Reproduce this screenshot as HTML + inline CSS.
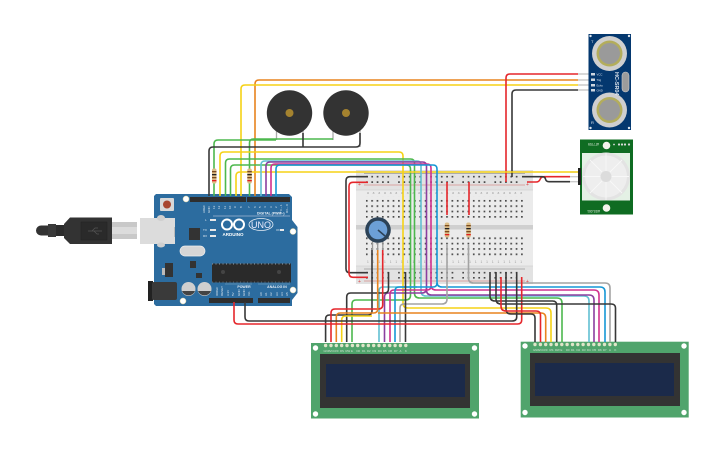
<!DOCTYPE html>
<html><head><meta charset="utf-8"><style>
html,body{margin:0;padding:0;background:#fff}
svg{display:block}
text{font-family:"Liberation Sans",sans-serif}
.w{fill:none;stroke-width:1.6;stroke-linejoin:round}
.g{stroke:#4db84e}.y{stroke:#f5d216}.o{stroke:#e8831e}.r{stroke:#e5262b}.k{stroke:#383838}
.c{stroke:#62c0d2}.p{stroke:#8b3f9f}.m{stroke:#d1308e}.b{stroke:#1597d5}.e{stroke:#a3a3a3}
</style></head><body>
<svg width="725" height="453" viewBox="0 0 725 453" xmlns="http://www.w3.org/2000/svg">
<defs>
<pattern id="h" x="365.9" y="194.6" width="5.35" height="5.35" patternUnits="userSpaceOnUse"><rect x="0" y="0" width="1.7" height="1.7" fill="#4a4a4a"/></pattern>
</defs>
<rect width="725" height="453" fill="#fff"/>

<!-- USB cable -->
<rect x="112" y="222" width="25" height="17" fill="#c9c9c9"/>
<rect x="112" y="227" width="25" height="7" fill="#dcdcdc"/>
<path d="M41 225.500H50V235.500H41A5 5 0 0 1 41 225.500Z" fill="#333"/>
<rect x="48" y="224" width="8" height="13" fill="#3a3a3a"/>
<rect x="56" y="225" width="8" height="11" fill="#2c2c2c"/>
<path d="M64 224L70 217.500H112V244H70L64 238Z" fill="#333"/>
<rect x="81" y="222" width="26" height="18" fill="#2a2a2a" stroke="#222" stroke-width=".5"/>
<path d="M88 231H102M92 231L95 228H98M94 231L97 234H99" stroke="#555" stroke-width=".7" fill="none"/>

<!-- Arduino -->
<path d="M156 194H289L292 197V220L297.500 227V293L292 300V306H156L154 304V196Z" fill="#2c6c9f"/>
<rect x="140" y="218" width="35" height="26" fill="#dcdcdc"/>
<rect x="174" y="227" width="1" height="10" fill="#bbb"/>
<ellipse cx="161" cy="218" rx="4" ry="3" fill="#cfcfcf"/><ellipse cx="161" cy="245" rx="4" ry="2.500" fill="#cfcfcf"/>
<rect x="190" y="197" width="56" height="5" fill="#2e2e2e"/>
<rect x="247" y="197" width="43" height="5" fill="#2e2e2e"/>
<rect x="209" y="298" width="44" height="5" fill="#2e2e2e"/>
<rect x="258" y="298" width="32" height="5" fill="#2e2e2e"/>
<circle cx="186" cy="199" r="3" fill="#fff" stroke="#e6d9a0" stroke-width=".5"/>
<circle cx="293" cy="231.500" r="3" fill="#fff" stroke="#e6d9a0" stroke-width=".5"/>
<circle cx="293" cy="290" r="3" fill="#fff" stroke="#e6d9a0" stroke-width=".5"/>
<circle cx="183" cy="301" r="3" fill="#fff" stroke="#e6d9a0" stroke-width=".5"/>
<rect x="160" y="198" width="14" height="13" rx="1" fill="#d8d8d8"/>
<circle cx="167" cy="204.500" r="4" fill="#a8452e"/>
<rect x="189" y="228" width="11" height="12" fill="#333"/>
<rect x="180" y="246" width="25" height="10" rx="5" fill="#d6d6d6" stroke="#eee" stroke-width=".7"/>
<rect x="190" y="261" width="6" height="7" fill="#333"/>
<rect x="196" y="273" width="6" height="5" fill="#333"/>
<rect x="212" y="263.500" width="79" height="19" fill="#2a2a2a"/>
<path d="M212 264h79" stroke="#fff" stroke-width=".6" stroke-dasharray="1 2.500"/>
<path d="M212 282h79" stroke="#999" stroke-width=".6" stroke-dasharray="1 2.500"/>
<circle cx="223" cy="272" r="2" fill="#444"/><circle cx="279" cy="272" r="2" fill="#444"/>
<rect x="165" y="263" width="8" height="14" fill="#333"/><rect x="162" y="268" width="3" height="7" fill="#bbb"/>
<rect x="148" y="281" width="5" height="20" fill="#222"/>
<rect x="152" y="282" width="25" height="18" rx="2" fill="#3a3a3a"/>
<circle cx="188.500" cy="289" r="7" fill="#cfcfcf"/><path d="M182 291a7 7 0 0 0 13 0Z" fill="#444"/>
<circle cx="204.500" cy="289" r="7" fill="#cfcfcf"/><path d="M198 291a7 7 0 0 0 13 0Z" fill="#444"/>
<g fill="#e8e8e8">
<rect x="210" y="219" width="6" height="2"/><rect x="210" y="229" width="6" height="2"/><rect x="210" y="235" width="6" height="2"/>
<rect x="280" y="229" width="4" height="2" />
</g>
<g fill="none" stroke="#fff" stroke-width="2">
<circle cx="227" cy="224.500" r="5"/><circle cx="239" cy="224.500" r="5"/>
</g>
<ellipse cx="261" cy="224.500" rx="12" ry="6" fill="none" stroke="#e8eef5" stroke-width=".8"/>
<text x="261" y="228" font-size="9" fill="#eef" text-anchor="middle">UNO</text>
<text x="233" y="236" font-size="4.500" font-weight="bold" fill="#fff" text-anchor="middle">ARDUINO</text>
<text x="257" y="214.500" font-size="3.500" font-weight="bold" fill="#e8eef5">DIGITAL (PWM~)</text>
<path d="M213 216H290" stroke="#dde" stroke-width=".5"/>
<text x="244" y="288" font-size="3.500" font-weight="bold" fill="#e8eef5" text-anchor="middle">POWER</text>
<text x="277" y="288" font-size="3.500" font-weight="bold" fill="#e8eef5" text-anchor="middle">ANALOG IN</text>
<path d="M225 284H252M258 284H290" stroke="#9bc" stroke-width=".4"/>
<g font-size="3" fill="#dfe8f0">
<text transform="translate(205,213) rotate(-90)">AREF</text><text transform="translate(210,213) rotate(-90)">GND</text>
<text transform="translate(215,209) rotate(-90)">13</text><text transform="translate(220,209) rotate(-90)">12</text>
<text transform="translate(226,209) rotate(-90)">11</text><text transform="translate(231,209) rotate(-90)">10</text>
<text transform="translate(236,208) rotate(-90)">9</text><text transform="translate(242,208) rotate(-90)">8</text>
<text transform="translate(250,208) rotate(-90)">7</text><text transform="translate(256,208) rotate(-90)">6</text>
<text transform="translate(261,208) rotate(-90)">5</text><text transform="translate(266,208) rotate(-90)">4</text>
<text transform="translate(272,208) rotate(-90)">3</text><text transform="translate(277,208) rotate(-90)">2</text>
<text transform="translate(282,213) rotate(-90)">TX→1</text><text transform="translate(288,213) rotate(-90)">RX←0</text>
<text transform="translate(218,296) rotate(-90)">IOREF</text><text transform="translate(223,296) rotate(-90)">RESET</text>
<text transform="translate(229,296) rotate(-90)">3.3V</text><text transform="translate(234,296) rotate(-90)">5V</text>
<text transform="translate(240,296) rotate(-90)">GND</text><text transform="translate(245,296) rotate(-90)">GND</text>
<text transform="translate(250,296) rotate(-90)">Vin</text>
<text transform="translate(262,296) rotate(-90)">A0</text><text transform="translate(267,296) rotate(-90)">A1</text>
<text transform="translate(272,296) rotate(-90)">A2</text><text transform="translate(278,296) rotate(-90)">A3</text>
<text transform="translate(283,296) rotate(-90)">A4</text><text transform="translate(288,296) rotate(-90)">A5</text>
<text x="205" y="221">L</text><text x="203" y="231">TX</text><text x="203" y="237">RX</text><text x="276" y="231">ON</text>
</g>

<!-- Buzzers -->
<path d="M276.500 130V140M303 130V140M333 130V140M360 130V147" stroke="#aaa" stroke-width="1.300"/>
<circle cx="289.500" cy="113" r="22.700" fill="#333"/><circle cx="289.500" cy="113" r="4" fill="#a5832f"/>
<circle cx="346" cy="113" r="22.700" fill="#333"/><circle cx="346" cy="113" r="4" fill="#a5832f"/>

<!-- Breadboard -->
<rect x="356" y="170" width="177" height="114" fill="#e2e2e2"/>
<rect x="356" y="190" width="177" height="76" fill="#ebebeb"/>
<rect x="356" y="225" width="177" height="4.500" fill="#cfcfcf"/>
<path d="M356 190H533M356 266H533" stroke="#d4d4d4" stroke-width=".8"/>
<path d="M364 173.500H525M364 269H525" stroke="#9a9a9a" stroke-width=".7"/>
<path d="M364 185H525M364 281H525" stroke="#d9908f" stroke-width=".7"/>
<rect x="365.900" y="196.500" width="158" height="24" fill="url(#h)"/>
<rect x="365.900" y="234" width="158" height="24" fill="url(#h)"/>
<g stroke="#4a4a4a" stroke-width="1.700" fill="none" stroke-dasharray="1.700 3.650 1.700 3.650 1.700 3.650 1.700 3.650 1.700 9">
<path d="M366 176.700H524M366 182.100H524M366 272.700H524M366 277.800H524"/>
</g>
<g font-size="3.200" fill="#999">
<text x="367" y="194" textLength="155">a a a a a a a a a a a a a a a a a a a a a a a a a a a a</text>
<text x="367" y="263" textLength="155">1 1 1 1 1 1 1 1 1 1 1 1 1 1 1 1 1 1 1 1 1 1 1 1 1 1 1 1</text>
</g>
<text x="358" y="186" font-size="5" fill="#d44">+</text><text x="526" y="186" font-size="5" fill="#d44">+</text>
<text x="358" y="283" font-size="5" fill="#d44">+</text><text x="526" y="283" font-size="5" fill="#d44">+</text>

<!-- LCD 1 -->
<rect x="311" y="343" width="168" height="75.500" fill="#50a46c"/>
<rect x="320" y="354" width="150" height="54" fill="#333"/>
<rect x="326" y="364" width="139" height="33" fill="#1b2a4a"/>
<circle cx="315.500" cy="348" r="2.700" fill="#fff"/><circle cx="474.500" cy="348" r="2.700" fill="#fff"/>
<circle cx="315.500" cy="414" r="2.700" fill="#fff"/><circle cx="474.500" cy="414" r="2.700" fill="#fff"/>
<g fill="#dfe5c8"><circle cx="325.600" cy="345.500" r="1.700"/><circle cx="331" cy="345.500" r="1.700"/><circle cx="336.300" cy="345.500" r="1.700"/><circle cx="341.700" cy="345.500" r="1.700"/><circle cx="347" cy="345.500" r="1.700"/><circle cx="352.400" cy="345.500" r="1.700"/><circle cx="357.700" cy="345.500" r="1.700"/><circle cx="363" cy="345.500" r="1.700"/><circle cx="368.400" cy="345.500" r="1.700"/><circle cx="373.700" cy="345.500" r="1.700"/><circle cx="379" cy="345.500" r="1.700"/><circle cx="384.400" cy="345.500" r="1.700"/><circle cx="389.800" cy="345.500" r="1.700"/><circle cx="395.100" cy="345.500" r="1.700"/><circle cx="400.400" cy="345.500" r="1.700"/><circle cx="405.800" cy="345.500" r="1.700"/></g>
<g fill="#cfe0d2" font-size="2.800">
<text x="323.500" y="352">GND</text><text x="329.500" y="352">VCC</text><text x="335" y="352">V0</text><text x="340" y="352">RS</text><text x="345.500" y="352">RW</text><text x="351" y="352">E</text><text x="356.500" y="352">D0</text><text x="362" y="352">D1</text><text x="367" y="352">D2</text><text x="372.500" y="352">D3</text><text x="378" y="352">D4</text><text x="383" y="352">D5</text><text x="388.500" y="352">D6</text><text x="394" y="352">D7</text><text x="399.500" y="352">A</text><text x="405" y="352">K</text>
</g>

<!-- LCD 2 -->
<rect x="520.700" y="341.700" width="168" height="75.800" fill="#50a46c"/>
<rect x="530" y="353" width="150" height="53" fill="#333"/>
<rect x="535" y="363" width="139" height="33" fill="#1b2a4a"/>
<circle cx="525" cy="346" r="2.700" fill="#fff"/><circle cx="684" cy="346" r="2.700" fill="#fff"/>
<circle cx="525" cy="412.500" r="2.700" fill="#fff"/><circle cx="684" cy="412.500" r="2.700" fill="#fff"/>
<g fill="#dfe5c8"><circle cx="535" cy="344.500" r="1.700"/><circle cx="540.400" cy="344.500" r="1.700"/><circle cx="545.700" cy="344.500" r="1.700"/><circle cx="551" cy="344.500" r="1.700"/><circle cx="556.400" cy="344.500" r="1.700"/><circle cx="561.800" cy="344.500" r="1.700"/><circle cx="567.100" cy="344.500" r="1.700"/><circle cx="572.500" cy="344.500" r="1.700"/><circle cx="577.800" cy="344.500" r="1.700"/><circle cx="583.100" cy="344.500" r="1.700"/><circle cx="588.500" cy="344.500" r="1.700"/><circle cx="593.800" cy="344.500" r="1.700"/><circle cx="599.200" cy="344.500" r="1.700"/><circle cx="604.500" cy="344.500" r="1.700"/><circle cx="609.900" cy="344.500" r="1.700"/><circle cx="615.300" cy="344.500" r="1.700"/></g>
<g fill="#cfe0d2" font-size="2.800">
<text x="533" y="351">GND</text><text x="538.500" y="351">VCC</text><text x="544" y="351">V0</text><text x="549.500" y="351">RS</text><text x="555" y="351">RW</text><text x="560.500" y="351">E</text><text x="566" y="351">D0</text><text x="571" y="351">D1</text><text x="576.500" y="351">D2</text><text x="582" y="351">D3</text><text x="587" y="351">D4</text><text x="592.500" y="351">D5</text><text x="598" y="351">D6</text><text x="603" y="351">D7</text><text x="609" y="351">A</text><text x="614.500" y="351">K</text>
</g>

<!-- HC-SR04 -->
<path d="M578 74H589M578 80H589M578 85H589M578 90H589" stroke="#ccc" stroke-width="1.400"/>
<rect x="588.500" y="34" width="42.500" height="96" fill="#04386f"/>
<g fill="#dfe6ee"><circle cx="590.500" cy="36" r="1.200"/><circle cx="629" cy="36" r="1.200"/><circle cx="590.500" cy="128" r="1.200"/><circle cx="629" cy="128" r="1.200"/></g>
<circle cx="609.500" cy="53.500" r="17.500" fill="#cfcfcf"/><circle cx="609.500" cy="53.500" r="13" fill="#b3ad5c"/><circle cx="609.500" cy="53.500" r="10.500" fill="#9a9a9a"/>
<circle cx="609.500" cy="110" r="17.500" fill="#cfcfcf"/><circle cx="609.500" cy="110" r="13" fill="#b3ad5c"/><circle cx="609.500" cy="110" r="10.500" fill="#9a9a9a"/>
<rect x="622" y="72" width="7" height="20" rx="3.500" fill="#9c9c9c" stroke="#ccc" stroke-width=".6"/>
<g fill="#cdd6e0"><rect x="591" y="73" width="4" height="2.500"/><rect x="591" y="78.500" width="4" height="2.500"/><rect x="591" y="84" width="4" height="2.500"/><rect x="591" y="89" width="4" height="2.500"/></g>
<g fill="#dfe6ee" font-size="2.800"><text x="596.500" y="75.500">VCC</text><text x="596.500" y="81">Trig</text><text x="596.500" y="86.500">Echo</text><text x="596.500" y="91.500">GND</text></g>
<text transform="translate(615,72) rotate(90)" font-size="5.500" font-weight="bold" fill="#dfe6ee">HC-SR04</text>
<text x="591" y="43" font-size="4" fill="#dfe6ee">T</text><text x="591" y="124" font-size="4" fill="#dfe6ee">R</text>

<!-- PIR -->
<rect x="580" y="139.500" width="53" height="75" fill="#0f6c22"/>
<rect x="582" y="153" width="48" height="47.500" fill="#e4f1e5"/>
<circle cx="606" cy="176.500" r="24" fill="#e3e3e3"/>
<circle cx="606" cy="176.500" r="21" fill="#eeeeee"/>
<path d="M606 153V172M606 181V200M583 176.500H601M611 176.500H629M590 160L602 172M622 160L610 172M590 193L602 181M622 193L610 181" stroke="#f8f8f8" stroke-width=".9"/>
<circle cx="606" cy="176.500" r="5.500" fill="#dcdcdc"/>
<circle cx="606.500" cy="145.500" r="3.800" fill="#f4f4ec"/><circle cx="606.500" cy="208" r="3.800" fill="#f4f4ec"/>
<rect x="578" y="168" width="3" height="17" fill="#222"/>
<g fill="#f0f4ea"><text transform="translate(599,143) rotate(180)" font-size="3.200">AT7709</text><text transform="translate(600,210) rotate(180)" font-size="3.200">ASS-001</text></g>
<g fill="#ddd"><circle cx="614" cy="144.500" r=".9"/><circle cx="619" cy="144.500" r="1.100"/><circle cx="622" cy="144.500" r="1.100"/><circle cx="625" cy="144.500" r="1.100"/><circle cx="629" cy="144.500" r="1.100"/></g>
<path d="M570 172H578M570 176.700H578M570 181.700H578" stroke="#ccc" stroke-width="1.400"/>

<!-- Potentiometer -->
<path d="M372.500 240V250M377.700 240V250M382.800 240V250" stroke="#999" stroke-width="1.300"/>
<circle cx="378" cy="230" r="12.800" fill="#2c4257"/>
<circle cx="378" cy="230" r="9.300" fill="#6c9fd6"/>
<path d="M378 230L385 236" stroke="#2c4257" stroke-width="1.600"/>

<!-- Wires -->
<path class="w o" d="M255 196V84Q255 80 259 80H578"/>
<path class="w y" d="M241 196V89Q241 85 245 85H578"/>
<path class="w r" d="M506 182V78Q506 74 510 74H578"/>
<path class="w k" d="M512 177V94Q512 90 516 90H578"/>
<path class="w g" d="M214 196V144Q214 140 218 140H276"/>
<path class="w g" d="M249.500 196V143Q249.500 139 253.500 139H333"/>
<path class="w k" d="M209 196V151Q209 147 213 147H303V133M303 147H356Q360 147 360 143V133"/>
<path class="w y" d="M220 196V156Q220 152 224 152H399Q403 152 403 156V303Q403 308 408 308H546Q551 308 551 313V342"/>
<path class="w g" d="M225.500 196V163Q225.500 159 229.500 159H410.500Q414.500 159 414.500 163V293Q414.500 298 419.500 298H557Q562 298 562 303V342"/>
<path class="w g" d="M230.500 196V169Q230.500 165 234.500 165H406.500Q410.500 165 410.500 169V295Q410.500 300 405.500 300H356Q352 300 352 304V342"/>
<path class="w y" d="M236 196V176Q236 172 240 172H578"/>
<path class="w c" d="M261 196V165Q261 161 265 161H417Q421 161 421 165V291Q421 296 426 296H584Q589 296 589 301V342"/>
<path class="w c" d="M379 342V291Q379 287 383 287H417"/>
<path class="w p" d="M266 196V166Q266 162 270 162H422.500Q426.500 162 426.500 166V290Q426.500 295 431.500 295H589Q594 295 594 300V342"/>
<path class="w p" d="M384.500 342V297Q384.500 293 388.500 293H422Q426.500 293 426.500 288"/>
<path class="w m" d="M271 196V168Q271 164 275 164H427Q431 164 431 168V285Q431 290 436 290H594Q599 290 599 295V342"/>
<path class="w m" d="M390 342V294Q390 290 394 290H427Q431 290 431 286"/>
<path class="w b" d="M276 196V169Q276 165 280 165H433Q437 165 437 169V282Q437 287 442 287H600Q605 287 605 292V342"/>
<path class="w b" d="M395 342V291Q395 287 399 287H433Q437 287 437 283"/>
<path class="w e" d="M468.500 245V278Q468.500 283 473.500 283H605Q610 283 610 288V342"/>
<path class="w e" d="M447 245V299Q447 304 442 304H404Q400 304 400 308V342"/>
<path class="w k" d="M405.500 272V342"/>
<path class="w k" d="M346.700 342V297Q346.700 293 350.700 293H384.500Q388.500 293 388.500 289V272"/>
<path class="w k" d="M325.600 342V319Q325.600 315 329.600 315H368Q372 315 372 311V250"/>
<path class="w r" d="M331 342V313Q331 309 335 309H378Q382.700 309 382.700 305V250"/>
<path class="w o" d="M336.300 342V317Q336.300 313 340.300 313H373.500Q377.700 313 377.700 309V250"/>
<path class="w y" d="M341.700 342V320Q341.700 316 345.700 316H372"/>
<path class="w o" d="M378 313H541Q545.700 313 545.700 318V342"/>
<path class="w k" d="M245 302V317Q245 321 249 321H512Q516.700 321 516.700 317V272"/>
<path class="w r" d="M234 302V320Q234 324 238 324H517.500Q521.700 324 521.700 320V277"/>
<path class="w k" d="M490 272V296Q490 301 495 301H552.500Q556.700 301 556.700 305V342"/>
<path class="w k" d="M496 272V299Q496 304 501 304H611Q615.500 304 615.500 308V342"/>
<path class="w k" d="M506 272V309Q506 314 511 314H531Q535 314 535 318V342"/>
<path class="w r" d="M501 277V306Q501 311 506 311H536Q540.500 311 540.500 315V342"/>
<path class="w k" d="M368 176.700H350Q346 176.700 346 180.700V268.700Q346 272.700 350 272.700H368"/>
<path class="w r" d="M368 182.300H353Q349 182.300 349 186.300V273Q349 277.300 353 277.300H368"/>
<path class="w r" d="M447 182V215M469 182V215"/>
<path class="w r" d="M527 182H536Q539 182 540 179.500Q541 176.700 544 176.700H570"/>
<path class="w k" d="M522 176.700H542Q545 176.700 545.500 179Q546 181.700 549 181.700H570"/>

<!-- Resistors -->
<g>
<rect x="212" y="168.500" width="4.500" height="15" rx="1.800" fill="#dcbd87"/><rect x="212" y="171" width="4.500" height="1.300" fill="#7a4a1e"/><rect x="212" y="174" width="4.500" height="1.300" fill="#222"/><rect x="212" y="177" width="4.500" height="1.300" fill="#7a4a1e"/><rect x="212" y="180" width="4.500" height="1.300" fill="#e01f1f"/>
<rect x="247.300" y="168.500" width="4.500" height="15" rx="1.800" fill="#dcbd87"/><rect x="247.300" y="171" width="4.500" height="1.300" fill="#7a4a1e"/><rect x="247.300" y="174" width="4.500" height="1.300" fill="#222"/><rect x="247.300" y="177" width="4.500" height="1.300" fill="#7a4a1e"/><rect x="247.300" y="180" width="4.500" height="1.300" fill="#e01f1f"/>
<rect x="444.800" y="222.500" width="4.500" height="15" rx="1.800" fill="#dcbd87"/><rect x="444.800" y="225" width="4.500" height="1.300" fill="#7a4a1e"/><rect x="444.800" y="228" width="4.500" height="1.300" fill="#222"/><rect x="444.800" y="231" width="4.500" height="1.300" fill="#7a4a1e"/><rect x="444.800" y="234" width="4.500" height="1.300" fill="#e01f1f"/>
<rect x="466.300" y="222.500" width="4.500" height="15" rx="1.800" fill="#dcbd87"/><rect x="466.300" y="225" width="4.500" height="1.300" fill="#7a4a1e"/><rect x="466.300" y="228" width="4.500" height="1.300" fill="#222"/><rect x="466.300" y="231" width="4.500" height="1.300" fill="#7a4a1e"/><rect x="466.300" y="234" width="4.500" height="1.300" fill="#e01f1f"/>
</g>
</svg>
</body></html>
